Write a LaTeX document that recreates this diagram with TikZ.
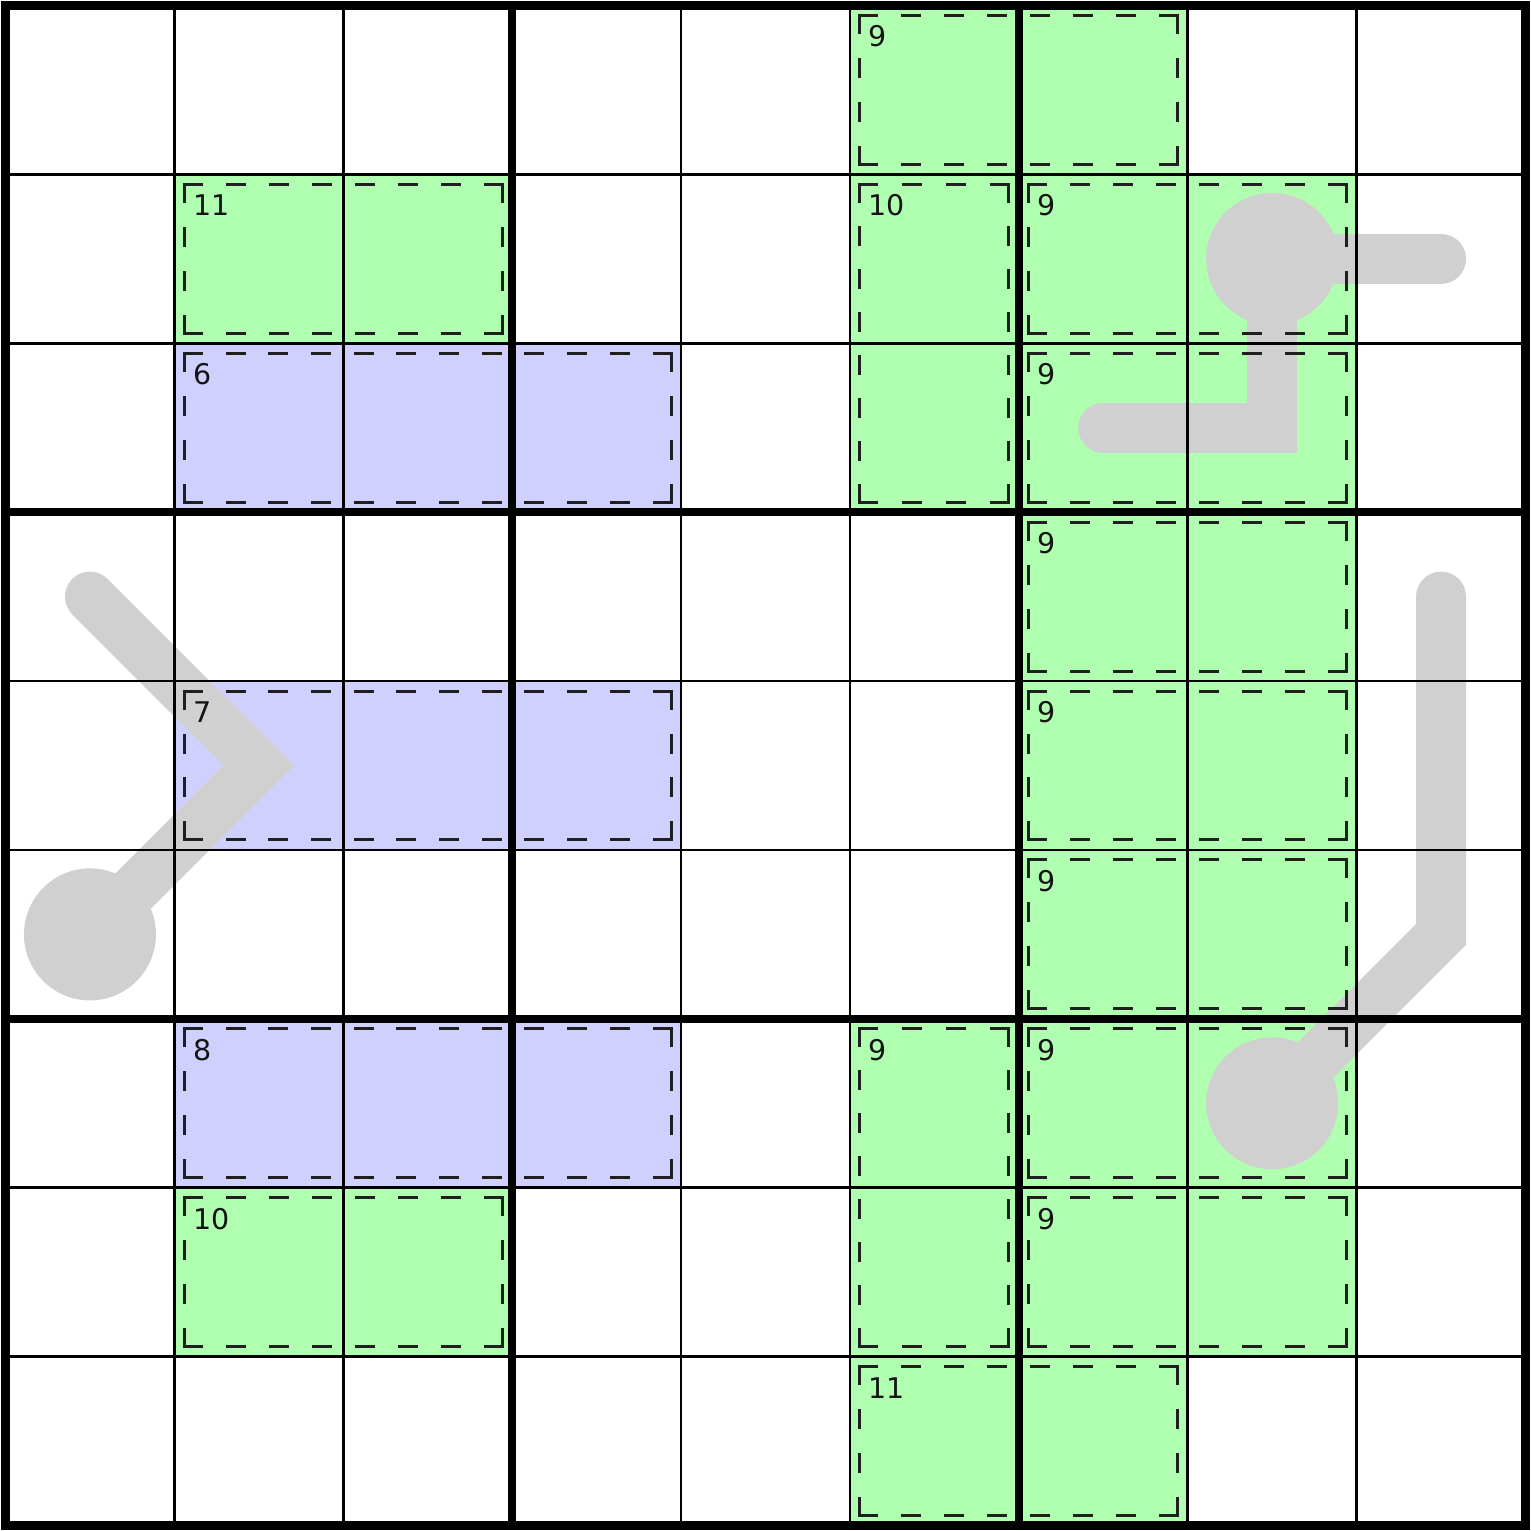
\documentclass[tikz,border=0pt]{standalone}
\usepackage{fontspec}
\setmainfont{DejaVu Sans}
\definecolor{gfill}{RGB}{176,255,176}
\definecolor{bfill}{RGB}{208,208,255}
\definecolor{thermo}{RGB}{208,208,208}
\begin{document}
\begin{tikzpicture}[x=168.89pt,y=-168.89pt,
  gridthin/.style={line width=2.7pt,black},
  boxline/.style={line width=8pt,black,line cap=rect},
  borderline/.style={line width=9pt,black},
  thermoline/.style={line width=50pt,draw=thermo,line cap=round,line join=miter},
  bulb/.style={fill=thermo},
  cagedash/.style={line width=3pt,draw=black!88,line cap=rect},
  cagelabel/.style={anchor=base west,inner sep=0pt,font=\fontsize{28.5pt}{28.5pt}\selectfont,text=black!92}]
\useasboundingbox (-0.032566,-0.032566) rectangle (9.032566,9.032566);
\fill[white] (-0.032566,-0.032566) rectangle (9.032566,9.032566);
\def\cagelist{6/1/2/1/9/gfill, 2/2/2/1/11/gfill, 6/2/1/2/10/gfill, 7/2/2/1/9/gfill, 7/3/2/1/9/gfill, 7/4/2/1/9/gfill, 7/5/2/1/9/gfill, 7/6/2/1/9/gfill, 6/7/1/2/9/gfill, 7/7/2/1/9/gfill, 7/8/2/1/9/gfill, 2/8/2/1/10/gfill, 6/9/2/1/11/gfill, 2/3/3/1/6/bfill, 2/5/3/1/7/bfill, 2/7/3/1/8/bfill}
\def\ins{0.05921}
% cage fills
\foreach \cc/\rr/\ww/\hh/\lb/\cl in \cagelist {
  \fill[\cl] (\cc-1,\rr-1) rectangle ++(\ww,\hh);
}
% thermometers
\coordinate (ta1) at (8.5,1.5);
\coordinate (ta2) at (7.5,1.5);
\coordinate (ta3) at (7.5,2.5);
\coordinate (ta4) at (6.5,2.5);
\coordinate (tb1) at (0.5,5.5);
\coordinate (tb2) at (1.5,4.5);
\coordinate (tb3) at (0.5,3.5);
\coordinate (tc1) at (7.5,6.5);
\coordinate (tc2) at (8.5,5.5);
\coordinate (tc3) at (8.5,3.5);
\draw[thermoline] (ta1) -- (ta2) -- (ta3) -- (ta4);
\fill[bulb] (ta2) circle[radius=66pt];
\draw[thermoline] (tb1) -- (tb2) -- (tb3);
\fill[bulb] (tb1) circle[radius=66pt];
\draw[thermoline] (tc1) -- (tc2) -- (tc3);
\fill[bulb] (tc1) circle[radius=66pt];
% grid
\foreach \k in {1,...,8} {
  \draw[gridthin] (\k,0) -- (\k,9);
  \draw[gridthin] (0,\k) -- (9,\k);
}
\foreach \k in {3,6} {
  \draw[boxline] (\k,0) -- (\k,9);
  \draw[boxline] (0,\k) -- (9,\k);
}
\draw[borderline] (0,0) rectangle (9,9);
% cage outlines and labels
\foreach \cc/\rr/\ww/\hh/\lb/\cl in \cagelist {
  \pgfmathsetmacro\Lw{\ww*168.89-20}
  \pgfmathsetmacro\nw{round((\Lw+22.5)/42.5)}
  \pgfmathsetmacro\ow{(\Lw-17)/(\nw-1)-17}
  \pgfmathsetmacro\Lh{\hh*168.89-20}
  \pgfmathsetmacro\nh{round((\Lh+22.5)/42.5)}
  \pgfmathsetmacro\oh{(\Lh-17)/(\nh-1)-17}
  \pgfmathsetmacro\xa{\cc-1+\ins}
  \pgfmathsetmacro\xb{\cc-1+\ww-\ins}
  \pgfmathsetmacro\ya{\rr-1+\ins}
  \pgfmathsetmacro\yb{\rr-1+\hh-\ins}
  \draw[cagedash,dash pattern=on 17pt off \ow pt] (\xa,\ya) -- (\xb,\ya);
  \draw[cagedash,dash pattern=on 17pt off \ow pt] (\xa,\yb) -- (\xb,\yb);
  \draw[cagedash,dash pattern=on 17pt off \oh pt] (\xa,\ya) -- (\xa,\yb);
  \draw[cagedash,dash pattern=on 17pt off \oh pt] (\xb,\ya) -- (\xb,\yb);
  \node[cagelabel] (lab-\cc-\rr) at (\cc-1+0.11,\rr-1+0.245) {\lb};
}
\end{tikzpicture}
\end{document}
